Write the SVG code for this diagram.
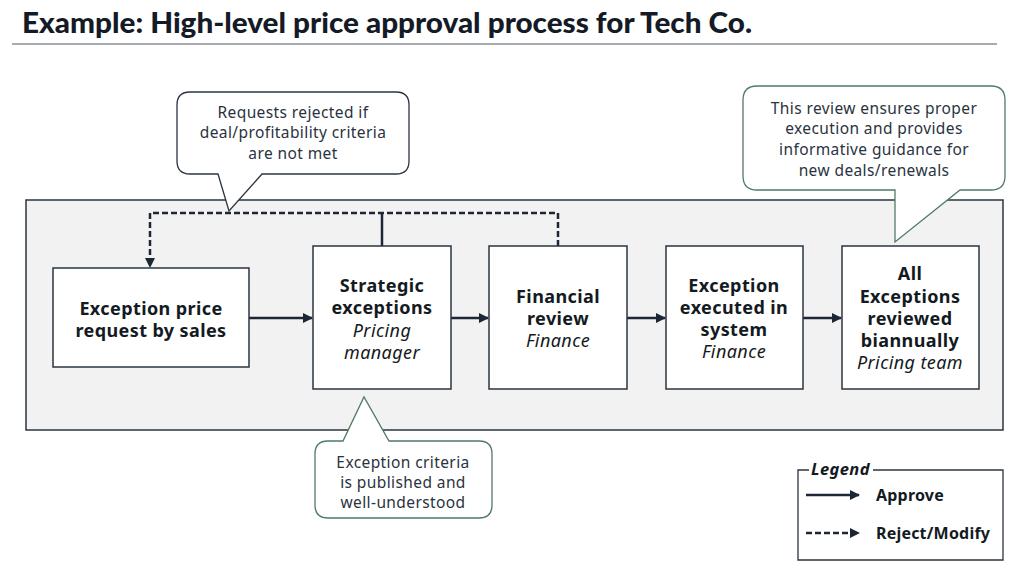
<svg xmlns="http://www.w3.org/2000/svg" width="1024" height="580" viewBox="0 0 1024 580">
<defs>
<style>
.t{font-family:"Noto Sans","Open Sans","Liberation Sans",sans-serif;fill:#141a22}
.b{font-weight:bold;font-size:18px;letter-spacing:0.4px}
.i{font-style:italic;font-size:18px;letter-spacing:0.4px}
.c{font-size:15.5px;letter-spacing:0.4px;fill:#2a3340}
.lg{font-size:16px;font-weight:bold;letter-spacing:0.2px}
.box{fill:#fff;stroke:#2a3442;stroke-width:1.5}
.dk{fill:#fff;stroke:#2a3442;stroke-width:1.3}
.gr{fill:#fff;stroke:#4f7b63;stroke-width:1.3}
.ln{fill:none;stroke:#1c2636;stroke-width:2.5}
.ds{fill:none;stroke:#1c2636;stroke-width:2.5;stroke-dasharray:6,3}
</style>
<marker id="ah" viewBox="0 0 10 10" refX="9" refY="5" markerWidth="4" markerHeight="4" orient="auto" markerUnits="strokeWidth">
<path d="M0,0 L10,5 L0,10 z" fill="#1c2636"/>
</marker>
</defs>
<rect width="1024" height="580" fill="#fff"/>
<g id="title">
<text x="22" y="33" font-family="Lato,'Liberation Sans',sans-serif" font-size="28" font-weight="900" textLength="730" lengthAdjust="spacingAndGlyphs" fill="#141a26">Example: High-level price approval process for Tech Co.</text>
<line x1="12" y1="44" x2="997" y2="44" stroke="#8a9099" stroke-width="1.5"/>
</g>
<g id="container">
<rect x="26" y="200" width="977" height="230" fill="#f2f2f2" stroke="#2a3442" stroke-width="1.5"/>
</g>
<g id="connectors">
<line class="ln" x1="249" y1="318" x2="312" y2="318" marker-end="url(#ah)"/>
<line class="ln" x1="451" y1="318" x2="488" y2="318" marker-end="url(#ah)"/>
<line class="ln" x1="627" y1="318" x2="665" y2="318" marker-end="url(#ah)"/>
<line class="ln" x1="803" y1="318" x2="841" y2="318" marker-end="url(#ah)"/>
<path class="ln" d="M382,246 V213"/>
<path class="ds" d="M558,246 V213 H150 V267" marker-end="url(#ah)"/>
</g>
<g id="n1">
<rect class="box" x="53" y="268" width="196" height="99"/>
<text class="t b" text-anchor="middle"><tspan x="151" y="315">Exception price</tspan><tspan x="151" y="337">request by sales</tspan></text>
</g>
<g id="n2">
<rect class="box" x="313" y="246" width="138" height="143"/>
<text class="t" text-anchor="middle"><tspan class="b" x="382" y="292">Strategic</tspan><tspan class="b" x="382" y="314">exceptions</tspan><tspan class="i" x="382" y="337">Pricing</tspan><tspan class="i" x="382" y="359">manager</tspan></text>
</g>
<g id="n3">
<rect class="box" x="489" y="246" width="138" height="143"/>
<text class="t" text-anchor="middle"><tspan class="b" x="558" y="303">Financial</tspan><tspan class="b" x="558" y="325">review</tspan><tspan class="i" x="558" y="347">Finance</tspan></text>
</g>
<g id="n4">
<rect class="box" x="666" y="246" width="137" height="143"/>
<text class="t" text-anchor="middle"><tspan class="b" x="734" y="292">Exception</tspan><tspan class="b" x="734" y="314">executed in</tspan><tspan class="b" x="734" y="336">system</tspan><tspan class="i" x="734" y="358">Finance</tspan></text>
</g>
<g id="n5">
<rect class="box" x="842" y="246" width="137" height="143"/>
<text class="t" text-anchor="middle"><tspan class="b" x="910" y="280">All</tspan><tspan class="b" x="910" y="303">Exceptions</tspan><tspan class="b" x="910" y="325">reviewed</tspan><tspan class="b" x="910" y="347">biannually</tspan><tspan class="i" x="910" y="369">Pricing team</tspan></text>
</g>
<g id="callout1">
<path class="dk" d="M190,92 H396 Q409,92 409,105 V161 Q409,174 396,174 H262 L229,211 L218,174 H190 Q177,174 177,161 V105 Q177,92 190,92 Z"/>
<text class="t c" text-anchor="middle"><tspan x="293" y="118">Requests rejected if</tspan><tspan x="293" y="138">deal/profitability criteria</tspan><tspan x="293" y="159">are not met</tspan></text>
</g>
<g id="callout2">
<path class="gr" d="M757,86 H991 Q1005,86 1005,100 V176 Q1005,190 991,190 H960 L895,242 V190 H757 Q743,190 743,176 V100 Q743,86 757,86 Z"/>
<text class="t c" text-anchor="middle"><tspan x="874" y="114">This review ensures proper</tspan><tspan x="874" y="134">execution and provides</tspan><tspan x="874" y="155">informative guidance for</tspan><tspan x="874" y="176">new deals/renewals</tspan></text>
</g>
<g id="callout3">
<path class="gr" d="M328,441 H343 L364,397 L389,441 H479 Q492,441 492,454 V505 Q492,518 479,518 H328 Q315,518 315,505 V454 Q315,441 328,441 Z"/>
<text class="t c" text-anchor="middle"><tspan x="403" y="468">Exception criteria</tspan><tspan x="403" y="488">is published and</tspan><tspan x="403" y="508">well-understood</tspan></text>
</g>
<g id="legend">
<path d="M809,470 H798 V560 H1003 V470 H873" fill="#fff" stroke="#2a3442" stroke-width="1.3"/>
<text class="t" x="811" y="475" font-size="16.5" font-weight="bold" font-style="italic" letter-spacing="0.4">Legend</text>
<line class="ln" x1="806" y1="495" x2="859" y2="495" marker-end="url(#ah)"/>
<text class="t lg" x="876" y="501">Approve</text>
<line class="ds" x1="806" y1="533" x2="859" y2="533" marker-end="url(#ah)"/>
<text class="t lg" x="876" y="539">Reject/Modify</text>
</g>
</svg>
